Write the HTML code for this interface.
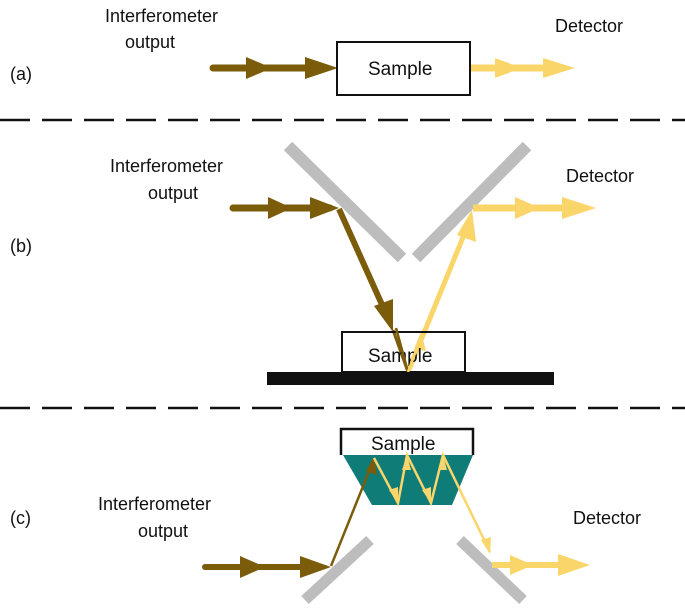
<!DOCTYPE html>
<html><head><meta charset="utf-8"><style>html,body{margin:0;padding:0;background:#fff}</style></head>
<body>
<svg width="685" height="607" viewBox="0 0 685 607" xmlns="http://www.w3.org/2000/svg" font-family="Liberation Sans, sans-serif" font-size="18" fill="#111">
<!-- dashed separators -->
<line x1="0" y1="120" x2="685" y2="120" stroke="#111" stroke-width="2.5" stroke-dasharray="30,12"/>
<line x1="0" y1="408" x2="685" y2="408" stroke="#111" stroke-width="2.5" stroke-dasharray="30,12"/>

<!-- (a) -->
<text x="105" y="22">Interferometer</text>
<text x="125" y="48">output</text>
<text x="10" y="80">(a)</text>
<text x="555" y="32">Detector</text>
<line x1="213" y1="68" x2="320" y2="68" stroke="#7a5c0a" stroke-width="7" stroke-linecap="round"/>
<polygon points="246,57 272,68 246,79" fill="#7a5c0a"/>
<polygon points="305,57 338,68 305,79" fill="#7a5c0a"/>
<rect x="337" y="42" width="133" height="53" fill="#fff" stroke="#111" stroke-width="2"/>
<text x="368" y="75" font-size="19">Sample</text>
<line x1="471" y1="68" x2="555" y2="68" stroke="#f9d56a" stroke-width="7"/>
<polygon points="495,58 522,68 495,78" fill="#f9d56a"/>
<polygon points="543,58 575,68 543,78" fill="#f9d56a"/>

<!-- (b) -->
<text x="110" y="172">Interferometer</text>
<text x="148" y="199">output</text>
<text x="10" y="252">(b)</text>
<text x="566" y="182">Detector</text>
<line x1="288" y1="146" x2="402" y2="258" stroke="#bdbdbd" stroke-width="12"/>
<line x1="527" y1="146" x2="416" y2="258" stroke="#bdbdbd" stroke-width="12"/>
<line x1="233" y1="208" x2="330" y2="208" stroke="#7a5c0a" stroke-width="7" stroke-linecap="round"/>
<polygon points="268,197 292,208 268,219" fill="#7a5c0a"/>
<polygon points="310,197 339,208 310,219" fill="#7a5c0a"/>
<line x1="339" y1="209" x2="388" y2="318" stroke="#7a5c0a" stroke-width="6"/>
<polygon points="374,306 393,299 393,332" fill="#7a5c0a"/>
<line x1="393" y1="330" x2="408" y2="372" stroke="#7a5c0a" stroke-width="3"/>
<line x1="408" y1="372" x2="466" y2="230" stroke="#f9d56a" stroke-width="5"/>
<polygon points="472,210 476,242 457,235" fill="#f9d56a"/>
<polygon points="421,332 426,351 414,349" fill="#f9d56a"/>
<line x1="473" y1="208" x2="570" y2="208" stroke="#f9d56a" stroke-width="7"/>
<polygon points="515,197 540,208 515,219" fill="#f9d56a"/>
<polygon points="562,197 596,208 562,219" fill="#f9d56a"/>
<rect x="342" y="332" width="123" height="40" fill="none" stroke="#111" stroke-width="2"/>
<text x="368" y="362" font-size="19">Sample</text>
<line x1="396" y1="328" x2="408" y2="372" stroke="#7a5c0a" stroke-width="2.5"/>
<line x1="408" y1="372" x2="420" y2="340" stroke="#f9d56a" stroke-width="2.5"/>
<rect x="267" y="372" width="287" height="13" fill="#111"/>

<!-- (c) -->
<text x="98" y="510">Interferometer</text>
<text x="138" y="537">output</text>
<text x="10" y="524">(c)</text>
<text x="573" y="524">Detector</text>
<polygon points="343,455 473,455 452,505 372,505" fill="#0f7c78"/>
<path d="M341,455 V429 H473 V455" fill="#fff" stroke="#111" stroke-width="2.5"/>
<text x="371" y="450" font-size="19">Sample</text>
<line x1="305" y1="600" x2="370" y2="540" stroke="#bdbdbd" stroke-width="11"/>
<line x1="460" y1="540" x2="523" y2="600" stroke="#bdbdbd" stroke-width="11"/>
<line x1="205" y1="567" x2="320" y2="567" stroke="#7a5c0a" stroke-width="6" stroke-linecap="round"/>
<polygon points="240,556 265,567 240,578" fill="#7a5c0a"/>
<polygon points="300,556 331,567 300,578" fill="#7a5c0a"/>
<line x1="331" y1="566" x2="372" y2="464" stroke="#7a5c0a" stroke-width="2.5"/>
<polygon points="374,457 377,475 366,471" fill="#7a5c0a"/>
<polyline points="374,458 398,503 407,455 431,503 443,455 490,552" fill="none" stroke="#f9d56a" stroke-width="2.5"/>
<polygon points="398,503 389,490 398,487" fill="#f9d56a"/>
<polygon points="407,455 402,470 411,470" fill="#f9d56a"/>
<polygon points="431,503 422,490 431,487" fill="#f9d56a"/>
<polygon points="443,455 438,470 447,470" fill="#f9d56a"/>
<polygon points="490,554 481,540 491,537" fill="#f9d56a"/>
<line x1="492" y1="565" x2="570" y2="565" stroke="#f9d56a" stroke-width="6"/>
<polygon points="510,555 533,565 510,575" fill="#f9d56a"/>
<polygon points="558,554 590,565 558,576" fill="#f9d56a"/>
</svg>
</body></html>
